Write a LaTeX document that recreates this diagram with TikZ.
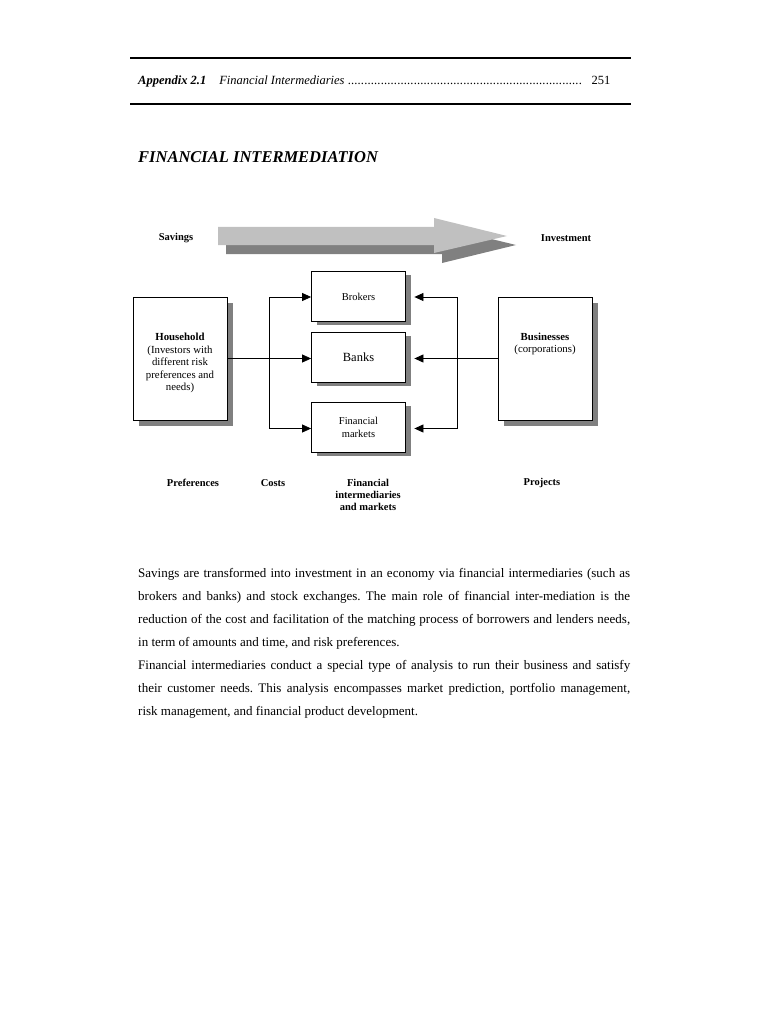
\documentclass[tikz,border=0pt]{standalone}
\usepackage{fontspec}
\setmainfont{Liberation Serif}
\usetikzlibrary{arrows.meta,shadows}
\definecolor{arrowlight}{HTML}{C0C0C0}
\definecolor{arrowdark}{HTML}{808080}
\frenchspacing
\begin{document}
\begin{tikzpicture}[x=1pt,y=-1pt,
  midbox/.style={draw, line width=0.8pt, fill=white, minimum width=94pt, minimum height=50pt, inner sep=0pt,
    copy shadow={shadow xshift=5pt, shadow yshift=-3pt, fill=arrowdark, draw=none}},
  bigbox/.style={draw, line width=0.8pt, fill=white, minimum width=94pt, minimum height=123pt, inner sep=0pt,
    copy shadow={shadow xshift=6pt, shadow yshift=-6pt, fill=arrowdark, draw=none}},
  lbl/.style={font=\fontsize{10.5}{12}\selectfont\bfseries, align=center, inner sep=0pt},
  boxtext/.style={font=\fontsize{10.8}{12.5}\selectfont, align=center, inner sep=0pt},
  conn/.style={line width=0.8pt, -{Triangle[length=9pt,width=8pt]}},
  plain/.style={line width=0.8pt}]
\useasboundingbox (0,0) rectangle (768,1024);

% header
\coordinate (r1a) at (130,58); \coordinate (r1b) at (631,58);
\coordinate (r2a) at (130,104); \coordinate (r2b) at (631,104);
\draw[line width=1.3pt] (r1a) -- (r1b);
\draw[line width=2.6pt] (r2a) -- (r2b);
\node[anchor=base west, inner sep=0pt, font=\fontsize{12.5}{14}\selectfont] (hdr) at (138,85)
  {\textbf{\textit{Appendix 2.1}}\hspace{13pt}\textit{Financial Intermediaries} \makebox[236pt]{\leaders\hbox to 3.3pt{\hss.\hss}\hfill}\hspace{8pt}251};

% title
\node[anchor=base west, inner sep=0pt, font=\fontsize{16.5}{18}\selectfont\bfseries\itshape] (title) at (138,163)
  {FINANCIAL INTERMEDIATION};

% big arrow
\fill[arrowdark] (226,236) -- (442,236) -- (442,227) -- (516,245) -- (442,263) -- (442,254) -- (226,254) -- cycle;
\fill[arrowlight] (218,227) -- (434,227) -- (434,218) -- (507,236) -- (434,253) -- (434,245) -- (218,245) -- cycle;
\node[lbl] (sav) at (176,238) {Savings};
\node[lbl] (inv) at (566,238) {Investment};

% boxes
\node[bigbox] (hh) at (180,358.5) {};
\node[boxtext] (hht) at (180,363) {\textbf{Household}\\(Investors with\\different risk\\preferences and\\needs)};
\node[bigbox] (bus) at (545,358.5) {};
\node[boxtext] (bust) at (545,344) {\textbf{Businesses}\\(corporations)};

\node[midbox, font=\fontsize{10.5}{12}\selectfont] (brk) at (358.5,296.5) {Brokers};
\node[midbox, font=\fontsize{12.5}{14}\selectfont] (bnk) at (358.5,357.5) {Banks};
\node[midbox, font=\fontsize{10.5}{13}\selectfont, align=center] (fm) at (358.5,427.5) {Financial\\markets};

% left connectors
\coordinate (lj) at (269,358.5);
\coordinate (ljt) at (269,297);
\coordinate (ljb) at (269,428.5);
\draw[plain] (ljt) -- (ljb);
\draw[conn] (hh.east |- lj) -- (bnk.west |- lj);
\draw[conn] (ljt) -- (brk.west |- ljt);
\draw[conn] (ljb) -- (fm.west |- ljb);

% right connectors
\coordinate (rj) at (457,358.5);
\coordinate (rjt) at (457,297);
\coordinate (rjb) at (457,428.5);
\draw[plain] (rjt) -- (rjb);
\draw[conn, shorten >=8.5pt] (bus.west |- rj) -- (bnk.east |- rj);
\draw[conn, shorten >=8.5pt] (rjt) -- (brk.east |- rjt);
\draw[conn, shorten >=8.5pt] (rjb) -- (fm.east |- rjb);

% bottom labels
\node[lbl] (pref) at (193,483) {Preferences};
\node[lbl] (cost) at (273,483) {Costs};
\node[lbl] (fim) at (368,495) {Financial\\intermediaries\\and markets};
\node[lbl] (proj) at (542,483) {Projects};

% body text
\node[anchor=north west, inner sep=0pt, text width=492pt, font=\fontsize{13}{23}\selectfont, align=justify] (body) at (138,568)
  {Savings are transformed into investment in an economy via financial intermediaries (such as\linebreak
  brokers and banks) and stock exchanges. The main role of financial inter-mediation is the\linebreak
  reduction of the cost and facilitation of the matching process of borrowers and lenders needs,\linebreak
  in term of amounts and time, and risk preferences.\par
  Financial intermediaries conduct a special type of analysis to run their business and satisfy\linebreak
  their customer needs. This analysis encompasses market prediction, portfolio management,\linebreak
  risk management, and financial product development.\par};
\end{tikzpicture}
\end{document}
